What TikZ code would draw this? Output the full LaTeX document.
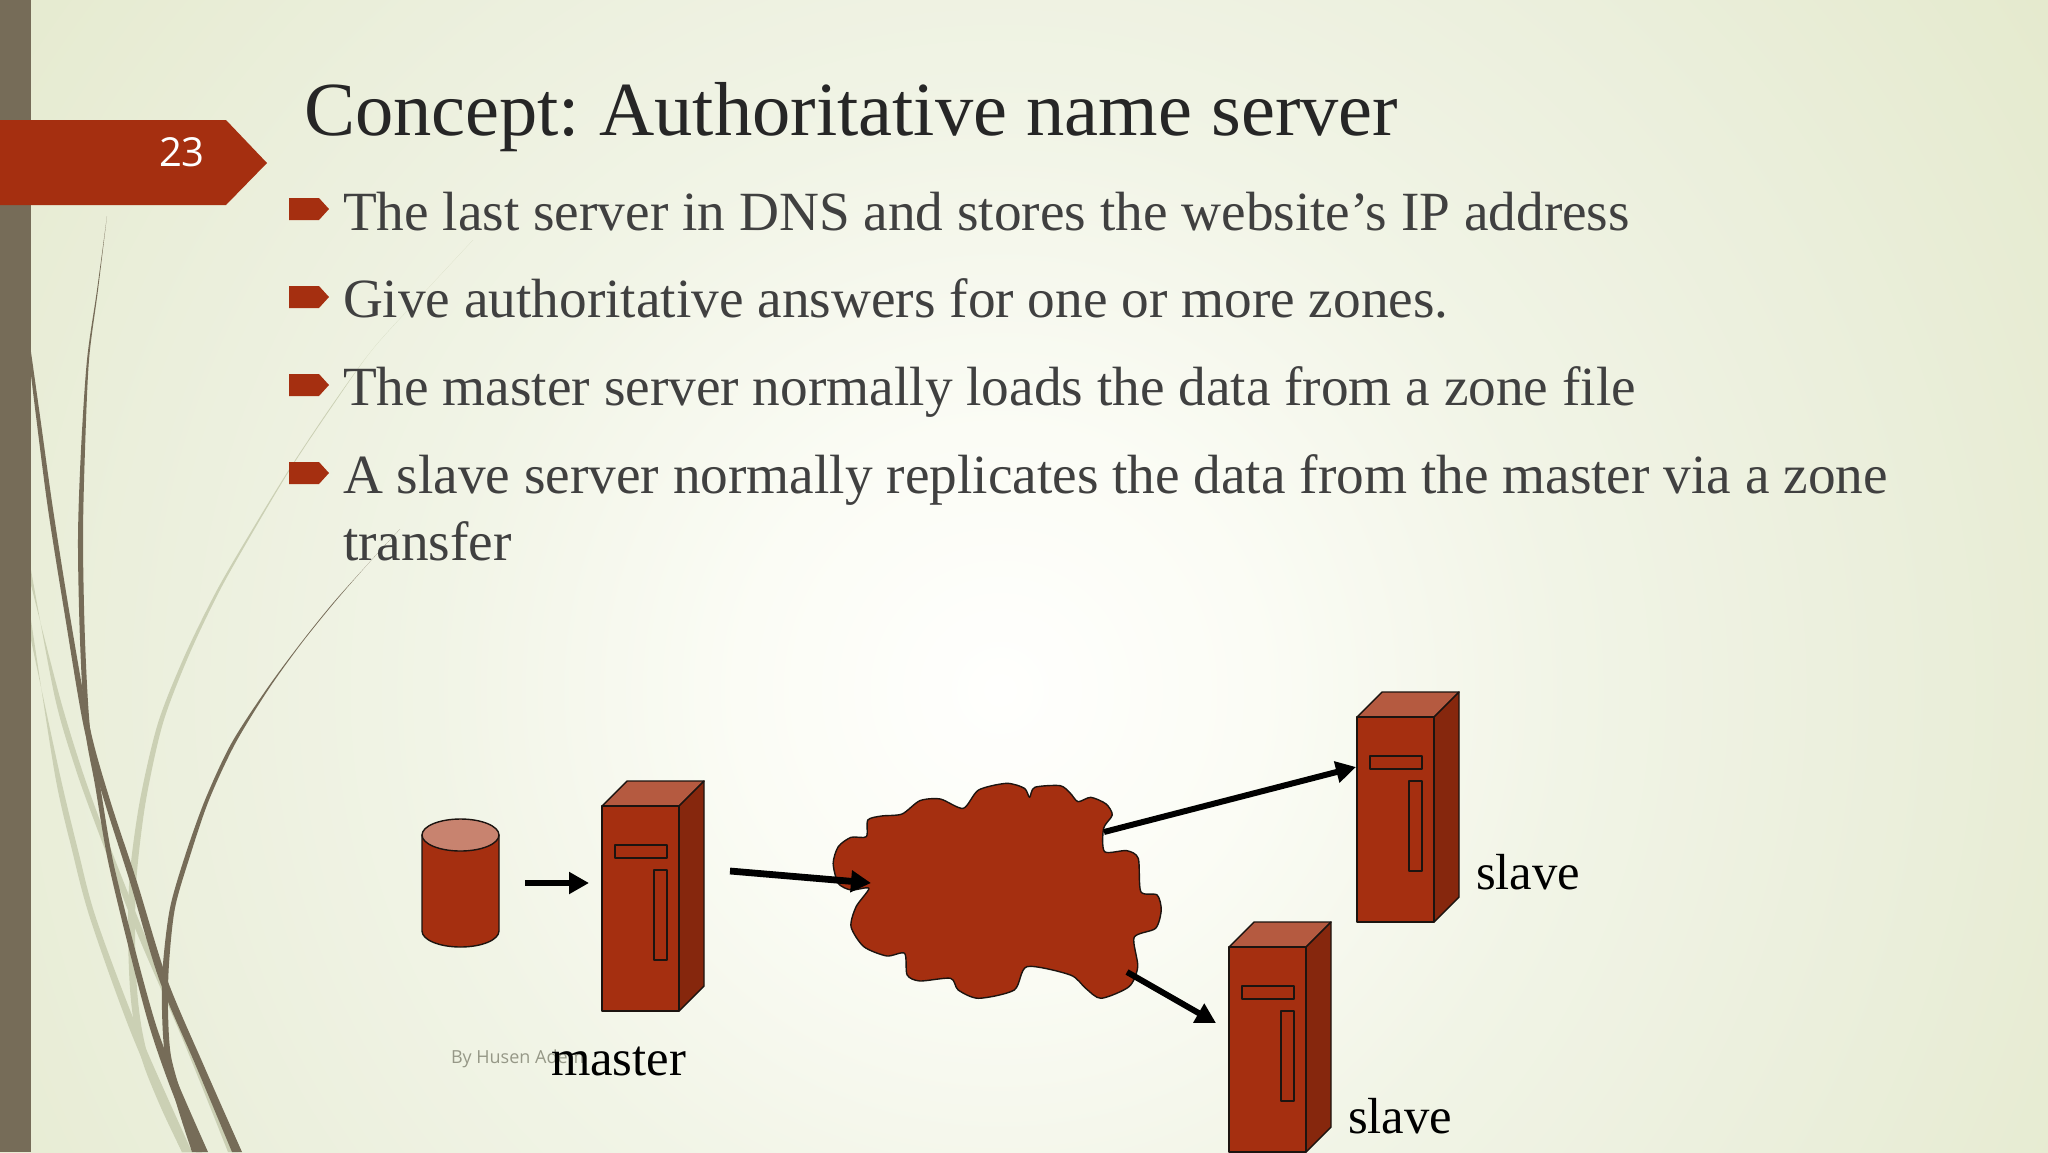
\documentclass[tikz,border=0pt]{standalone}
\usepackage{fontspec}
\setmainfont{Liberation Serif}
\newfontfamily\uifont{Open Sans}
\usetikzlibrary{arrows.meta}
\definecolor{rust}{RGB}{165,47,16}
\definecolor{rustlight}{RGB}{181,90,64}
\definecolor{rustdark}{RGB}{134,39,13}
\definecolor{rustpale}{RGB}{200,131,111}
\definecolor{barcol}{RGB}{118,108,88}
\definecolor{lightcurve}{RGB}{203,208,180}
\definecolor{edgecol}{RGB}{28,20,16}
\definecolor{footcol}{RGB}{150,152,135}
\definecolor{bga}{RGB}{255,255,253}
\definecolor{bgb}{RGB}{251,252,245}
\definecolor{bgc}{RGB}{241,244,230}
\definecolor{bgd}{RGB}{235,239,220}
\definecolor{bgdd}{RGB}{229,234,206}
\definecolor{bge}{RGB}{224,230,194}
\definecolor{bgf}{RGB}{218,224,180}
\pgfdeclareradialshading{bgglow}{\pgfpoint{0bp}{0bp}}{%
 color(0bp)=(bga);
 color(5bp)=(bgb);
 color(11bp)=(bgc);
 color(17bp)=(bgd);
 color(24bp)=(bgdd);
 color(34bp)=(bge);
 color(50bp)=(bgf)}
\newcommand{\sz}[1]{\fontsize{#1}{#1}\selectfont}
\frenchspacing
\tikzset{
 x=1pt,y=-1pt,
 txt/.style={anchor=base west,inner sep=0pt,outer sep=0pt},
 titletxt/.style={txt,text=black!85,font=\sz{76.5}},
 bullettxt/.style={txt,text=black!75,font=\sz{55.3}},
 labeltxt/.style={txt,text=black,font=\sz{50.7}},
 flow/.style={black,line width=6.8pt,-{Triangle[length=20pt,width=21pt]}},
 edge/.style={draw=edgecol,line width=1.4pt,line join=round},
 pics/serverbox/.style={code={
  \fill[rust] (0,0) rectangle (77,205);
  \filldraw[edge,fill=rustlight] (0,0) -- (25,-25) -- (102,-25) -- (77,0) -- cycle;
  \filldraw[edge,fill=rustdark] (77,0) -- (102,-25) -- (102,180) -- (77,205) -- cycle;
  \draw[edge] (0,0) rectangle (77,205);
  \draw[edge] (13,39) rectangle (65,52);
  \draw[edge] (52,64) rectangle (65,154);
 }},
 pics/tagmark/.style={code={
  \fill[rust] (0,0) -- (30,0) -- (40,11) -- (30,22) -- (0,22) -- cycle;
 }}
}
\begin{document}
\begin{tikzpicture}
\useasboundingbox (0,0) rectangle (2048,1152);
\begin{scope}
\clip (0,0) rectangle (2048,1152);
\shade[shading=bgglow] (1000,690) circle (1300);
% light grass
\fill[lightcurve] plot[smooth] coordinates {(473,240)(420,297)(372,350)(330,408)(290,468)(252,530)(217,590)(185,655)(158,723)(140,800)(130,872)(128,930)(130,989)(135,1030)(144,1066)(162,1110)(182,1152)}
  -- plot[smooth] coordinates {(192,1152)(170,1110)(151,1066)(142,1030)(137,989)(135,930)(137,872)(146,800)(163,723)(189,655)(220,590)(254,530)(291,468)(331,408)(372,350)(420,297)(473,240)} -- cycle;
\fill[lightcurve] plot[smooth] coordinates {(31,570)(55,698)(76,770)(98,831)(137,933)(183,1040)(228,1152)}
  -- plot[smooth] coordinates {(238,1152)(190,1040)(144,933)(104,831)(82,770)(60,698)(31,585)} -- cycle;
\fill[lightcurve] plot[smooth] coordinates {(31,620)(55,775)(72,850)(90,918)(130,1030)(182,1152)}
  -- plot[smooth] coordinates {(192,1152)(138,1030)(96,918)(78,850)(60,775)(31,640)} -- cycle;
% dark grass
\fill[barcol] plot[smooth] coordinates {(31,375)(36,416)(48,509)(65,616)(84,728)(104,800)(130,882)(159,979)(196,1066)(232,1152)}
  -- plot[smooth] coordinates {(242,1152)(204,1066)(167,979)(137,882)(110,800)(90,728)(70,616)(53,509)(40,416)(31,352)} -- cycle;
\fill[barcol] plot[smooth] coordinates {(107,216)(97,290)(87,360)(81,450)(78,539)(80,640)(85,728)(95,785)(108,861)(130,953)(149,1025)(168,1081)(196,1152)}
  -- plot[smooth] coordinates {(208,1152)(177,1081)(156,1025)(136,953)(113,861)(100,785)(90,728)(85,640)(83,539)(85,450)(89,360)(98,290)(107,216)} -- cycle;
\fill[barcol] plot[smooth] coordinates {(400,529)(367,565)(333,603)(300,644)(266,690)(231,744)(205,800)(185,856)(170,908)(163,964)(162,1010)(165,1056)(176,1102)(192,1152)}
  -- plot[smooth] coordinates {(202,1152)(184,1102)(171,1056)(168,1010)(169,964)(175,908)(190,856)(209,800)(235,744)(268,690)(301,644)(334,603)(367,565)(400,529)} -- cycle;
\end{scope}
\fill[barcol] (0,0) rectangle (31,1152);
\fill[rust] (0,120) -- (226,120) -- (267,163) -- (226,205) -- (0,205) -- cycle;
\node[txt,text=white,font=\uifont\sz{40}] (pagenum) at (159,166) {23};
\node[titletxt] (title) at (304,135) {Concept: Authoritative name server};
\path (289,198) pic {tagmark} (289,286) pic {tagmark} (289,374) pic {tagmark} (289,462) pic {tagmark};
\node[bullettxt] (b1) at (343,230) {The last server in DNS and stores the website’s IP address};
\node[bullettxt] (b2) at (343,317.5) {Give authoritative answers for one or more zones.};
\node[bullettxt] (b3) at (343,405) {The master server normally loads the data from a zone file};
\node[bullettxt] (b4) at (343,493) {A slave server normally replicates the data from the master via a zone};
\node[bullettxt] (b5) at (343,560) {transfer};
% cylinder
\filldraw[edge,fill=rust] (422,835) -- (422,931) arc[start angle=180,end angle=360,x radius=38.5,y radius=-16] -- (499,835) -- cycle;
\filldraw[edge,fill=rustpale] (460.5,835) ellipse (38.5 and 16);
% servers
\path (602,806) pic (masterbox) {serverbox};
\path (1357,717) pic (slaveA) {serverbox};
\path (1229,947) pic (slaveB) {serverbox};
% cloud
\begin{scope}[shift={(800pt,-680pt)},x=0.5102pt,y=-0.3333pt]
\filldraw[edge,fill=rust] plot[smooth cycle,tension=0.45] coordinates {
(65,550)(75,500)(100,472)(130,470)(133,420)(160,408)(200,402)(235,362)(275,357)(320,385)(350,330)(405,310)(440,325)(450,352)(460,322)(510,317)(530,340)(545,365)(570,352)(600,372)(612,405)(595,445)(597,515)(640,512)(663,535)(668,635)(700,645)(708,690)(697,745)(655,772)(662,860)(645,920)(590,955)(560,925)(530,885)(445,860)(420,930)(350,955)(310,930)(295,895)(235,903)(210,885)(205,820)(170,828)(125,800)(100,740)(110,680)(135,625)(100,630)(75,610)};
\end{scope}
% connectors
\coordinate (cylout) at (525,883);
\coordinate (mastin) at (589,883);
\coordinate (mastout) at (730,871);
\coordinate (cloudin) at (871,883);
\coordinate (cloudA) at (1104,832);
\coordinate (slaveAin) at (1356,767);
\coordinate (cloudB) at (1127,972);
\coordinate (slaveBin) at (1216,1023);
\draw[flow] (cylout) -- (mastin);
\draw[flow] (mastout) -- (cloudin);
\draw[flow,line width=6pt] (cloudA) -- (slaveAin);
\draw[flow,line width=6pt] (cloudB) -- (slaveBin);
\node[txt,text=footcol,font=\uifont\sz{18}] (footer) at (451,1063) {By Husen Adem};
\node[labeltxt] (mlabel) at (551,1075) {master};
\node[labeltxt] (s1label) at (1476,889) {slave};
\node[labeltxt] (s2label) at (1348,1133) {slave};
\end{tikzpicture}
\end{document}
